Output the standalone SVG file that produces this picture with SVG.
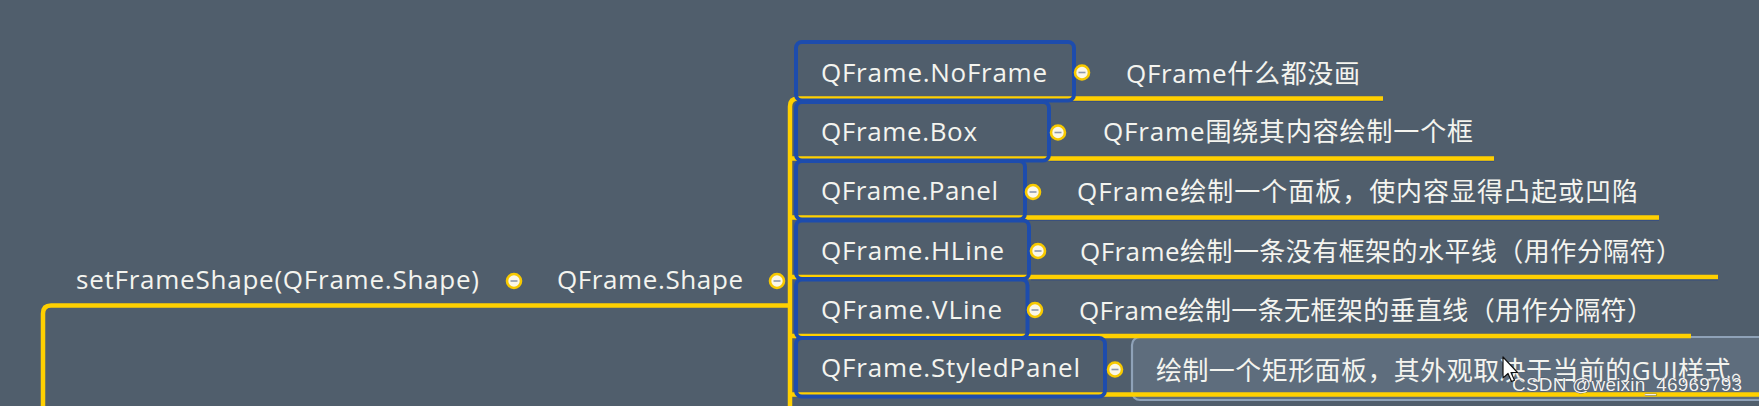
<svg xmlns="http://www.w3.org/2000/svg" width="1759" height="406" viewBox="0 0 1759 406">
<style>
.bg{fill:#505e6c}
.ln{fill:none;stroke:#ffd000;stroke-width:4.5;stroke-linecap:butt}
.sh{fill:none;stroke:#2f4a86;stroke-width:1.2;opacity:.7}
.box{fill:none;stroke:#1d4cad;stroke-width:4}
.t{font-family:"Open Sans","Noto Sans CJK SC",sans-serif;font-size:26px;fill:#f4f4ef}
.d{font-family:"Open Sans","Noto Sans CJK SC",sans-serif;font-size:26px;fill:#f4f4ef}
.c{fill:#fbf7e8;stroke:#f7c900;stroke-width:2.6}
.m{stroke:#8d97aa;stroke-width:1.6}
.wm{font-family:"Liberation Sans",Arial,sans-serif;font-size:19px;fill:#f2f2f2;stroke:#3c4450;stroke-width:.6;paint-order:stroke}
</style>
<defs>
<g id="col"><circle class="c" r="7"/><line class="m" x1="-3.5" y1="0" x2="3.5" y2="0"/></g>
</defs>
<rect class="bg" x="0" y="0" width="1759" height="406"/>

<g id="desc-panel">
<rect x="1132" y="337" width="660" height="63" rx="8" fill="#5f6f80" fill-opacity=".9" stroke="#8fa2b8" stroke-width="2.2"/>
</g>

<g id="connectors">
<path class="ln" d="M43 406 V313.5 Q43 305.5 51 305.5 H790"/>
<path class="ln" d="M790 406 V106.5 Q790 98.5 798 98.5 H1383"/>
<path class="sh" d="M798 101.5 H1383"/>
<path class="ln" d="M790 158.5 H1494"/>
<path class="sh" d="M1050 161.5 H1494"/>
<path class="ln" d="M790 217.5 H1659"/>
<path class="sh" d="M1027 220.5 H1659"/>
<path class="ln" d="M790 277 H1718"/>
<path class="sh" d="M1031 280 H1718"/>
<path class="ln" d="M790 336 H1691"/>
<path class="ln" d="M790 394.5 H1759"/>
</g>

<g id="root">
<text class="t" x="76" y="289" textLength="403">setFrameShape(QFrame.Shape)</text>
<use href="#col" x="514" y="281"/>
</g>

<g id="shape">
<text class="t" x="557" y="288.5" textLength="186">QFrame.Shape</text>
<use href="#col" x="777" y="281"/>
</g>

<g id="noframe">
<rect class="box" x="796" y="42" width="278" height="58.5" rx="6"/>
<text class="t" x="821" y="81.5" textLength="226">QFrame.NoFrame</text>
<use href="#col" x="1082" y="72.5"/>
</g>
<g id="noframe-desc"><text class="d" x="1126" y="83" textLength="234">QFrame什么都没画</text></g>

<g id="box">
<rect class="box" x="796" y="102" width="253" height="58.5" rx="6"/>
<text class="t" x="821" y="141" textLength="156">QFrame.Box</text>
<use href="#col" x="1058" y="132.5"/>
</g>
<g id="box-desc"><text class="d" x="1103" y="141" textLength="370">QFrame围绕其内容绘制一个框</text></g>

<g id="panel">
<rect class="box" x="796" y="161" width="229" height="58.5" rx="6"/>
<text class="t" x="821" y="200" textLength="177">QFrame.Panel</text>
<use href="#col" x="1033" y="192"/>
</g>
<g id="panel-desc"><text class="d" x="1077" y="201" textLength="561">QFrame绘制一个面板，使内容显得凸起或凹陷</text></g>

<g id="hline">
<rect class="box" x="796" y="220.5" width="233" height="58.5" rx="6"/>
<text class="t" x="821" y="259.5" textLength="183">QFrame.HLine</text>
<use href="#col" x="1038" y="251"/>
</g>
<g id="hline-desc"><text class="d" x="1080" y="261" textLength="602">QFrame绘制一条没有框架的水平线（用作分隔符）</text></g>

<g id="vline">
<rect class="box" x="796" y="279.5" width="231.5" height="58.5" rx="6"/>
<text class="t" x="821" y="318.5" textLength="181">QFrame.VLine</text>
<use href="#col" x="1035" y="310"/>
</g>
<g id="vline-desc"><text class="d" x="1079" y="320" textLength="574">QFrame绘制一条无框架的垂直线（用作分隔符）</text></g>

<g id="styledpanel">
<rect class="box" x="796" y="338" width="309" height="58.5" rx="6"/>
<text class="t" x="821" y="377" textLength="259">QFrame.StyledPanel</text>
<use href="#col" x="1115" y="369.5"/>
</g>
<g id="styledpanel-desc"><text class="d" x="1156" y="380" textLength="601">绘制一个矩形面板，其外观取决于当前的GUI样式。</text></g>

<g id="watermark"><text class="wm" x="1512" y="391" textLength="230">CSDN @weixin_46969793</text></g>

<g id="cursor">
<path d="M1503 357 L1503 378 L1508 373.5 L1511.5 381.5 L1514.5 380.2 L1511 372.5 L1517.5 372.5 Z" fill="#ffffff" stroke="#111" stroke-width="1.2" stroke-linejoin="round"/>
</g>
</svg>
